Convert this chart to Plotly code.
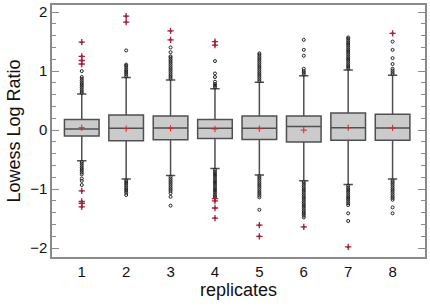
import plotly.graph_objects as go

reps = [1, 2, 3, 4, 5, 6, 7, 8]
tick_text = ["1", "2", "3", "4", "5", "6", "7", "8"]
q1 = [-0.10, -0.18, -0.165, -0.14, -0.16, -0.20, -0.17, -0.17]
median = [0.02, 0.03, 0.037, 0.03, 0.03, 0.06, 0.04, 0.037]
q3 = [0.18, 0.256, 0.24, 0.18, 0.24, 0.24, 0.29, 0.27]
lowf = [-0.52, -0.83, -0.77, -0.65, -0.76, -0.86, -0.92, -0.83]
upf = [0.61, 0.89, 0.85, 0.70, 0.81, 0.92, 1.02, 0.93]
means = [0.04, 0.025, 0.03, 0.02, 0.025, 0.0, 0.04, 0.037]

# black open-circle outliers per replicate
out_black = [
    [0.63, 0.66, 0.69, 0.72, 0.75, 0.78, 0.81, 0.84, 0.87, 0.90, 1.00,
     -0.54, -0.57, -0.60, -0.63, -0.66, -0.69, -0.72, -0.75, -0.82, -0.86, -0.93],
    [0.91, 0.94, 0.97, 1.00, 1.03, 1.06, 1.09, 1.11, 1.35,
     -0.85, -0.88, -0.91, -0.94, -0.97, -1.00, -1.03, -1.06, -1.10],
    [0.87, 0.90, 0.93, 0.96, 0.99, 1.02, 1.05, 1.08, 1.11, 1.14, 1.17, 1.20, 1.23, 1.25, 1.32, 1.40,
     -0.79, -0.82, -0.85, -0.88, -0.91, -0.94, -0.97, -1.00, -1.03, -1.07, -1.13, -1.28],
    [0.72, 0.75, 0.78, 0.82, 0.90, 0.96, 1.17,
     -0.67, -0.70, -0.73, -0.76, -0.79, -0.82, -0.85, -0.88, -0.91, -0.94, -0.97,
     -1.00, -1.03, -1.06, -1.09, -1.12, -1.14],
    [0.83, 0.86, 0.89, 0.92, 0.95, 0.98, 1.01, 1.04, 1.07, 1.10, 1.13, 1.16, 1.19, 1.22, 1.25, 1.28, 1.30,
     -0.78, -0.81, -0.84, -0.87, -0.90, -0.93, -0.96, -0.99, -1.02, -1.05, -1.08, -1.11, -1.14, -1.35],
    [0.94, 0.97, 1.00, 1.04, 1.26, 1.36, 1.53,
     -0.88, -0.91, -0.94, -0.97, -1.00, -1.03, -1.06, -1.09, -1.12, -1.15, -1.18, -1.21,
     -1.24, -1.27, -1.30, -1.33, -1.36, -1.39, -1.42, -1.45, -1.48],
    [1.04, 1.07, 1.10, 1.13, 1.16, 1.19, 1.22, 1.25, 1.28, 1.31, 1.34, 1.37, 1.40, 1.43, 1.46, 1.49, 1.52, 1.55, 1.57,
     -0.94, -0.97, -1.00, -1.03, -1.06, -1.09, -1.12, -1.15, -1.18, -1.21, -1.24, -1.27, -1.41, -1.54],
    [0.95, 0.98, 1.01, 1.04, 1.12, 1.22, 1.36, 1.50,
     -0.85, -0.88, -0.91, -0.94, -0.97, -1.00, -1.03, -1.06, -1.09, -1.12, -1.15, -1.18, -1.31, -1.41],
]
# red plus outliers per replicate
out_red = [
    [1.12, 1.18, 1.25, 1.49, -1.03, -1.21, -1.24, -1.30],
    [1.83, 1.93],
    [1.53, 1.68],
    [1.44, 1.50, -1.16, -1.20, -1.32, -1.49],
    [-1.61, -1.80],
    [-1.64],
    [-1.98],
    [1.64],
]

fig = go.Figure()
fig.add_trace(go.Box(
    x=reps, q1=q1, median=median, q3=q3, lowerfence=lowf, upperfence=upf,
    boxpoints=False, width=0.78, whiskerwidth=0.27,
    fillcolor="#cbcbcb", line=dict(color="#505050", width=1.5),
    showlegend=False, hoverinfo="skip",
))

bx, by, rx, ry = [], [], [], []
for i, r in enumerate(reps):
    bx += [r] * len(out_black[i]); by += out_black[i]
    rx += [r] * len(out_red[i]); ry += out_red[i]

fig.add_trace(go.Scatter(
    x=bx, y=by, mode="markers", showlegend=False,
    marker=dict(symbol="circle-open", size=3, color="#222222", line=dict(width=1)),
))
fig.add_trace(go.Scatter(
    x=rx, y=ry, mode="markers", showlegend=False,
    marker=dict(symbol="circle", size=2.5, color="#5a1a24"),
))
fig.add_trace(go.Scatter(
    x=rx, y=ry, mode="markers", showlegend=False,
    marker=dict(symbol="cross-thin-open", size=4.5, color="#a8203a", line=dict(width=1.3, color="#a8203a")),
))
fig.add_trace(go.Scatter(
    x=reps, y=means, mode="markers", showlegend=False,
    marker=dict(symbol="cross-thin-open", size=4.5, color="#d02a2a", line=dict(width=1, color="#d02a2a")),
))

fig.update_layout(
    width=430, height=306,
    margin=dict(l=52, r=3, t=4, b=49),
    paper_bgcolor="white", plot_bgcolor="white",
    font=dict(family="Liberation Sans, Arial, sans-serif", color="#111111", size=15),
)
fig.update_xaxes(
    range=[0.33, 8.73], tickvals=reps, ticktext=tick_text, ticks="",
    showgrid=False, zeroline=False, showline=True, mirror=True,
    linecolor="#8a8a8a", linewidth=1.5,
    title=dict(text="replicates", font=dict(size=18), standoff=3),
    tickfont=dict(size=15),
)
fig.update_yaxes(
    range=[-2.15, 2.12], tickvals=[-2, -1, 0, 1, 2], ticks="inside", ticklen=7,
    tickcolor="#8a8a8a", tickwidth=1,
    minor=dict(ticks="inside", dtick=0.2, ticklen=4, tickcolor="#8a8a8a", showgrid=False),
    showgrid=False, zeroline=False, showline=True, mirror="ticks",
    linecolor="#8a8a8a", linewidth=1.5,
    title=dict(text="Lowess Log Ratio", font=dict(size=18), standoff=5),
    tickfont=dict(size=15),
)

fig.write_html("out.html")
